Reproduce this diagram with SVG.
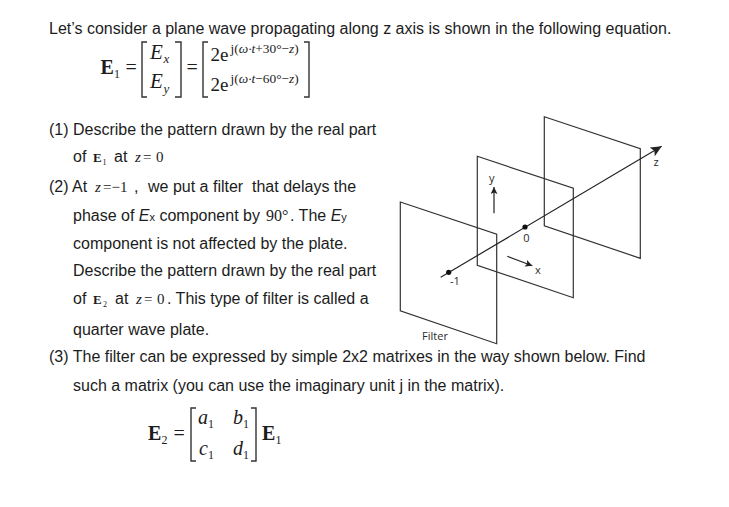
<svg xmlns="http://www.w3.org/2000/svg" width="729" height="507" viewBox="0 0 729 507">
<defs>
<marker id="ah" markerWidth="10" markerHeight="8" refX="7" refY="3.5" orient="auto" markerUnits="userSpaceOnUse"><path d="M0,0L7,3.5L0,7L1.5,3.5Z" fill="#222"/></marker>
<marker id="ahz" markerWidth="13" markerHeight="12" refX="11" refY="5" orient="auto" markerUnits="userSpaceOnUse"><path d="M0,0L11,5L0,10L2.5,5Z" fill="#222"/></marker>
</defs>
<style>
.t{font-family:"Liberation Sans",Arial,sans-serif;font-size:16px;fill:#1c1c1c}
.m{font-family:"Liberation Serif","Times New Roman",serif;fill:#1c1c1c}
.i{font-style:italic}
.b{font-weight:bold}
.br{fill:none;stroke:#333;stroke-width:1.4}
.pl{fill:none;stroke:#333;stroke-width:1.2}
.lb{font-family:"Open Sans","Liberation Sans",sans-serif;font-size:11px;fill:#2a2a2a;text-anchor:middle}
</style>
<rect width="729" height="507" fill="#fff"/>
<text class="t" x="49" y="34">Let’s consider a plane wave propagating along z axis is shown in the following equation.</text>
<g id="eq1">
<text class="m b" x="100.5" y="74" font-size="20">E</text><text class="m" x="114" y="78" font-size="12">1</text>
<text class="m" x="125.5" y="74" font-size="20">=</text>
<path class="br" d="M147,42H142V97H147M175,42H181V97H175"/>
<text class="m i" x="150" y="59" font-size="21">E</text><text class="m i" x="163.5" y="63" font-size="13">x</text>
<text class="m i" x="150" y="88" font-size="21">E</text><text class="m i" x="163.5" y="93" font-size="13">y</text>
<text class="m" x="186.5" y="74" font-size="20">=</text>
<path class="br" d="M208,42H203V97H208M304,42H309V97H304"/>
<text class="m" x="210.5" y="61" font-size="19">2e</text>
<text class="m" x="230.5" y="53" font-size="13.4">j(<tspan class="i">ω·t</tspan>+30°−<tspan class="i">z</tspan>)</text>
<text class="m" x="210.5" y="91" font-size="19">2e</text>
<text class="m" x="230.5" y="83" font-size="13.4">j(<tspan class="i">ω·t</tspan>−60°−<tspan class="i">z</tspan>)</text>
</g>
<g id="q1">
<text class="t" x="49" y="135">(1) Describe the pattern drawn by the real part</text>
<text class="t" x="73" y="162">of</text>
<text class="m b" x="93" y="162" font-size="13">E</text><text class="m" x="102.5" y="165" font-size="8">1</text>
<text class="t" x="114" y="162">at</text>
<text class="m i" x="135" y="162" font-size="15">z</text><text class="m" x="143" y="162" font-size="15">=</text><text class="m" x="156" y="162" font-size="15">0</text>
</g>
<g id="q2">
<text class="t" x="49" y="192">(2) At</text>
<text class="m i" x="95" y="192" font-size="15">z</text><text class="m" x="103" y="192" font-size="15">=−1</text>
<text class="t" x="134" y="192">,</text>
<text class="t" x="148" y="192">we put a filter</text>
<text class="t" x="252" y="192">that delays the</text>
<text class="t" x="73" y="221">phase of <tspan class="i">E</tspan><tspan font-size="11">x</tspan> component by</text>
<text class="m" x="266" y="221" font-size="16">90°</text>
<text class="t" x="290" y="221">. The <tspan class="i">E</tspan><tspan font-size="11">y</tspan></text>
<text class="t" x="73" y="249">component is not affected by the plate.</text>
<text class="t" x="73" y="276">Describe the pattern drawn by the real part</text>
<text class="t" x="73" y="304">of</text>
<text class="m b" x="93" y="304" font-size="13">E</text><text class="m" x="103" y="307" font-size="8">2</text>
<text class="t" x="115" y="304">at</text>
<text class="m i" x="136" y="304" font-size="15">z</text><text class="m" x="144" y="304" font-size="15">=</text><text class="m" x="157" y="304" font-size="15">0</text>
<text class="t" x="167" y="304">. This type of filter is called a</text>
<text class="t" x="73" y="335">quarter wave plate.</text>
</g>
<g id="q3">
<text class="t" x="49" y="362">(3) The filter can be expressed by simple 2x2 matrixes in the way shown below. Find</text>
<text class="t" x="73" y="391">such a matrix (you can use the imaginary unit j in the matrix).</text>
</g>
<g id="eq2">
<text class="m b" x="148" y="440" font-size="20">E</text><text class="m" x="161.5" y="444" font-size="12">2</text>
<text class="m" x="173.5" y="440" font-size="20">=</text>
<path class="br" d="M196,408H191V461H196M251,408H256V461H251"/>
<text class="m i" x="198" y="424" font-size="20">a</text><text class="m" x="208" y="428" font-size="12">1</text>
<text class="m i" x="233" y="424" font-size="20">b</text><text class="m" x="243" y="428" font-size="12">1</text>
<text class="m i" x="199" y="455" font-size="20">c</text><text class="m" x="208" y="459" font-size="12">1</text>
<text class="m i" x="233" y="455" font-size="20">d</text><text class="m" x="243" y="459" font-size="12">1</text>
<text class="m b" x="262" y="440" font-size="20">E</text><text class="m" x="275.5" y="444" font-size="12">1</text>
</g>
<g id="plane-back"><path class="pl" d="M544.3,116.7L640.3,148.7V258.3L544.3,225.7Z"/></g>
<g id="plane-middle"><path class="pl" d="M477.3,156.3L573.3,188.3V297.7L477.3,265.3Z"/></g>
<g id="plane-filter"><path class="pl" d="M400.3,202L496.7,234.3V343.7L400.3,310.7Z"/><text class="lb" x="435" y="340">Filter</text></g>
<g id="connectors" fill="none" stroke="#222" stroke-width="1.2">
<path d="M440.7,277.3L661.7,146.3" marker-end="url(#ahz)"/>
<path d="M494,213.3V187" marker-end="url(#ah)"/>
<path d="M507.3,256.3L532.3,265.7" marker-end="url(#ah)"/>
</g>
<g id="point-minus1"><circle cx="448.7" cy="272.3" r="2.6" fill="#111"/><text class="lb" x="455" y="285">-1</text></g>
<g id="point-0"><circle cx="525" cy="227" r="2.6" fill="#111"/><text class="lb" x="526.5" y="241.5">0</text></g>
<g id="labels">
<text class="lb" x="491.7" y="182">y</text>
<text class="lb" x="538" y="274">x</text>
<text class="lb" x="656" y="166">z</text>
</g>
</svg>
